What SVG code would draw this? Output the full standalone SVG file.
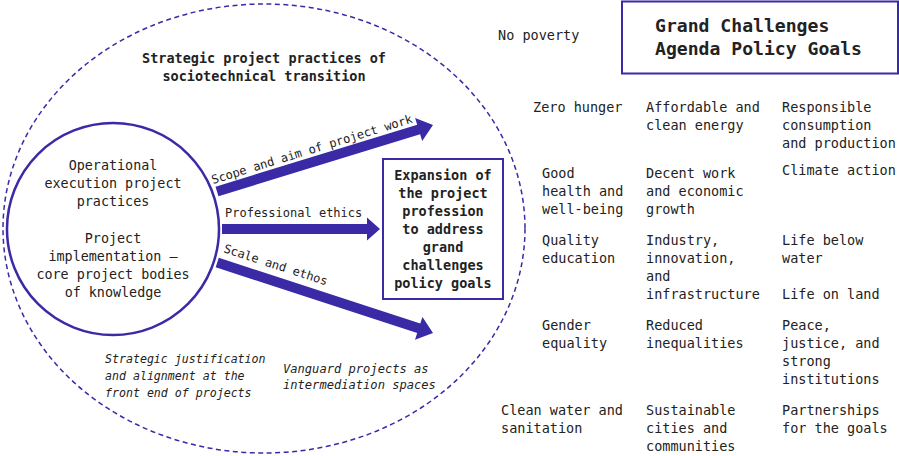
<svg xmlns="http://www.w3.org/2000/svg" width="899" height="456" viewBox="0 0 899 456">
<style>
text{font-family:"DejaVu Sans Mono","Liberation Mono",monospace;fill:#222;}
.t{font-size:13.5px;}
.c{font-size:13.4px;text-anchor:middle;}
.b{font-size:13.5px;font-weight:bold;text-anchor:middle;}
.l{font-size:12px;}
.i{font-style:italic;}
.ar{fill:#3a2aa6;}
.ln{fill:none;stroke:#3a2aa6;}
</style>
<rect width="899" height="456" fill="#fff"/>
<g id="outer">
<ellipse class="ln" cx="264" cy="228.5" rx="261" ry="224.5" stroke-width="1.5" stroke-dasharray="5 3.5"/>
<text class="b" x="264" y="63">Strategic project practices of</text>
<text class="b" x="264" y="81">sociotechnical transition</text>
<text class="i" x="105" y="363" style="font-size:11.6px">Strategic justification</text>
<text class="i" x="105" y="380" style="font-size:11.6px">and alignment at the</text>
<text class="i" x="105" y="396.5" style="font-size:11.6px">front end of projects</text>
<text class="i" x="283" y="372.5" style="font-size:12.1px">Vanguard projects as</text>
<text class="i" x="283" y="388.5" style="font-size:12.1px">intermediation spaces</text>
</g>
<g id="inner">
<circle class="ln" cx="113" cy="229" r="106" stroke-width="2.5"/>
<text class="c" x="113" y="170">Operational</text>
<text class="c" x="113" y="188">execution project</text>
<text class="c" x="113" y="206">practices</text>
<text class="c" x="113" y="243">Project</text>
<text class="c" x="113" y="261">implementation –</text>
<text class="c" x="113" y="279">core project bodies</text>
<text class="c" x="113" y="297">of knowledge</text>
</g>
<g id="expansion">
<rect class="ln" x="383" y="159" width="120" height="140" stroke-width="2"/>
<text class="b" x="443" y="180">Expansion of</text>
<text class="b" x="443" y="198">the project</text>
<text class="b" x="443" y="216">profession</text>
<text class="b" x="443" y="234">to address</text>
<text class="b" x="443" y="252">grand</text>
<text class="b" x="443" y="270">challenges</text>
<text class="b" x="443" y="288">policy goals</text>
</g>
<g id="connectors">
<polygon class="ar" points="-226,-5 -15,-5 -15,-12 0,0 -15,12 -15,5 -226,5" transform="translate(433,125) rotate(-17.1)"/>
<polygon class="ar" points="-158,-5 -13,-5 -13,-11.5 0,0 -13,11.5 -13,5 -158,5" transform="translate(380,229)"/>
<polygon class="ar" points="-227,-5 -15,-5 -15,-12 0,0 -15,12 -15,5 -227,5" transform="translate(433,333) rotate(18.1)"/>
<text class="l" transform="translate(213,184) rotate(-17.1)">Scope and aim of project work</text>
<text class="l" x="225" y="217">Professional ethics</text>
<text class="l" transform="translate(223,252) rotate(18)">Scale and ethos</text>
</g>
<g id="goals-title">
<rect class="ln" x="622" y="1.5" width="276" height="72" stroke-width="2"/>
<text x="655" y="32" style="font-size:18.1px;font-weight:bold">Grand Challenges</text>
<text x="655" y="55" style="font-size:18.1px;font-weight:bold">Agenda Policy Goals</text>
</g>
<g id="goals">
<text class="t" x="498" y="40">No poverty</text>
<text class="t" x="533" y="112">Zero hunger</text>
<text class="t" x="646" y="112">Affordable and</text>
<text class="t" x="646" y="130">clean energy</text>
<text class="t" x="782" y="112">Responsible</text>
<text class="t" x="782" y="130">consumption</text>
<text class="t" x="782" y="148">and production</text>
<text class="t" x="542" y="178">Good</text>
<text class="t" x="542" y="196">health and</text>
<text class="t" x="542" y="214">well-being</text>
<text class="t" x="646" y="178">Decent work</text>
<text class="t" x="646" y="196">and economic</text>
<text class="t" x="646" y="214">growth</text>
<text class="t" x="782" y="175">Climate action</text>
<text class="t" x="542" y="245">Quality</text>
<text class="t" x="542" y="263">education</text>
<text class="t" x="646" y="245">Industry,</text>
<text class="t" x="646" y="263">innovation,</text>
<text class="t" x="646" y="281">and</text>
<text class="t" x="646" y="299">infrastructure</text>
<text class="t" x="782" y="245">Life below</text>
<text class="t" x="782" y="263">water</text>
<text class="t" x="782" y="299">Life on land</text>
<text class="t" x="542" y="330">Gender</text>
<text class="t" x="542" y="348">equality</text>
<text class="t" x="646" y="330">Reduced</text>
<text class="t" x="646" y="348">inequalities</text>
<text class="t" x="782" y="330">Peace,</text>
<text class="t" x="782" y="348">justice, and</text>
<text class="t" x="782" y="366">strong</text>
<text class="t" x="782" y="384">institutions</text>
<text class="t" x="501" y="415">Clean water and</text>
<text class="t" x="501" y="433">sanitation</text>
<text class="t" x="646" y="415">Sustainable</text>
<text class="t" x="646" y="433">cities and</text>
<text class="t" x="646" y="451">communities</text>
<text class="t" x="782" y="415">Partnerships</text>
<text class="t" x="782" y="433">for the goals</text>
</g>
</svg>
